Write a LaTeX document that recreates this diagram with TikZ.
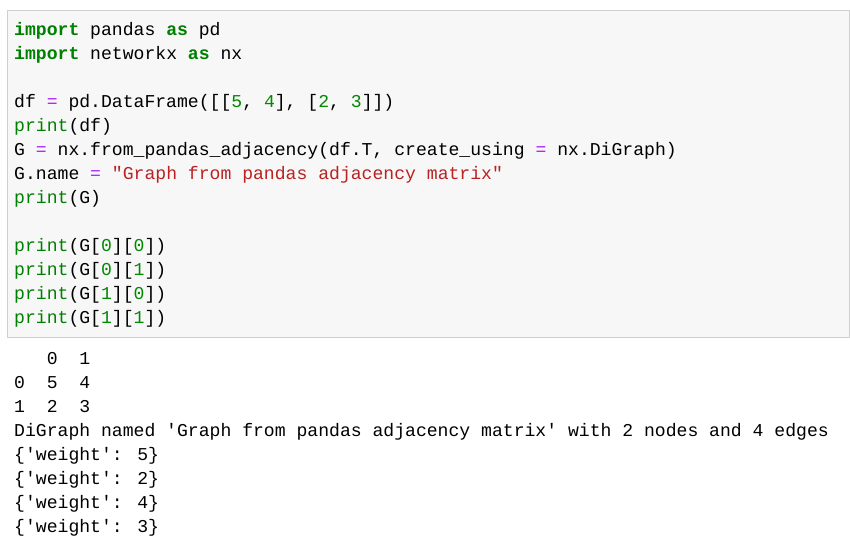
\documentclass[tikz,border=0pt]{standalone}
\usepackage{fontspec}
\newfontfamily\code{Liberation Mono}
\definecolor{kw}{HTML}{008000}
\definecolor{op}{HTML}{AA22FF}
\definecolor{st}{HTML}{BA2121}
\definecolor{nm}{HTML}{008800}
\definecolor{cellbg}{HTML}{F7F7F7}
\definecolor{cellbd}{HTML}{CFCFCF}
\newcommand{\K}[1]{\textcolor{kw}{\bfseries #1}}
\newcommand{\B}[1]{\textcolor{kw}{#1}}
\newcommand{\N}[1]{\textcolor{nm}{#1}}
\newcommand{\E}{\textcolor{op}{=}}
\newcommand{\Q}{\char"27\relax}
\newcommand{\D}{\char"22\relax}
\begin{document}
\begin{tikzpicture}[x=1pt,y=-1pt,
  ln/.style={anchor=base west,inner sep=0pt,font=\code\fontsize{18.1}{20}\selectfont,text=black}]
\useasboundingbox (0,0) rectangle (850,547);
\fill[white] (0,0) rectangle (850,547);
\draw[cellbd,fill=cellbg] (7.5,10.5) rectangle (849.5,337.5);
\node[ln] (l1) at (14,35) {\K{import} pandas \K{as} pd};
\node[ln] (l2) at (14,59) {\K{import} networkx \K{as} nx};
\node[ln] (l3) at (14,107) {df \E{} pd.DataFrame([[\N{5}, \N{4}], [\N{2}, \N{3}]])};
\node[ln] (l4) at (14,131) {\B{print}(df)};
\node[ln] (l5) at (14,155) {G \E{} nx.from\_pandas\_adjacency(df.T, create\_using \E{} nx.DiGraph)};
\node[ln] (l6) at (14,179) {G.name \E{} \textcolor{st}{\D Graph from pandas adjacency matrix\D}};
\node[ln] (l7) at (14,203) {\B{print}(G)};
\node[ln] (l8) at (14,251) {\B{print}(G[\N{0}][\N{0}])};
\node[ln] (l9) at (14,275) {\B{print}(G[\N{0}][\N{1}])};
\node[ln] (l10) at (14,299) {\B{print}(G[\N{1}][\N{0}])};
\node[ln] (l11) at (14,323) {\B{print}(G[\N{1}][\N{1}])};
\node[ln] (o1) at (14,364) {\ \ \ 0\ \ 1};
\node[ln] (o2) at (14,388) {0\ \ 5\ \ 4};
\node[ln] (o3) at (14,412) {1\ \ 2\ \ 3};
\node[ln] (o4) at (14,436) {DiGraph named \Q Graph from pandas adjacency matrix\Q{} with 2 nodes and 4 edges};
\node[ln] (o5) at (14,460) {\{\Q weight\Q: 5\}};
\node[ln] (o6) at (14,484) {\{\Q weight\Q: 2\}};
\node[ln] (o7) at (14,508) {\{\Q weight\Q: 4\}};
\node[ln] (o8) at (14,532) {\{\Q weight\Q: 3\}};
\end{tikzpicture}
\end{document}
